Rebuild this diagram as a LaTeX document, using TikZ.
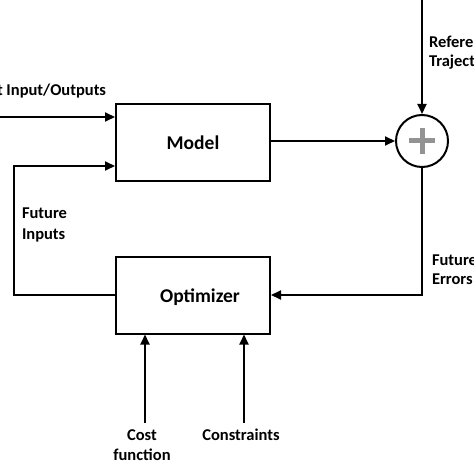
\documentclass[tikz,border=0pt]{standalone}
\usepackage{fontspec}
\setmainfont{Carlito}
\usetikzlibrary{arrows.meta}
\begin{document}
\begin{tikzpicture}[x=1bp,y=-1bp,
  line width=2bp,
  blk/.style={draw=black, line width=2bp, minimum width=154bp, minimum height=77bp, inner sep=0pt, font=\fontsize{19.5bp}{23bp}\selectfont\bfseries},
  lbl/.style={inner sep=0pt, font=\fontsize{16.5bp}{20bp}\selectfont\bfseries},
  sumc/.style={draw=black, circle, line width=2bp, minimum size=52bp, inner sep=0pt},
  arr/.style={-{Triangle[length=10bp,width=9bp]}, line width=2bp}
]
\useasboundingbox (0,0) rectangle (474,474);
\fill[white] (0,0) rectangle (474,474);

% blocks
\node[blk] (model) at (193,142.5) {Model};
\node[blk] (opt) at (193,295) {};
\node[lbl, font=\fontsize{19.5bp}{23bp}\selectfont\bfseries] (opttext) at (200,297) {Optimizer};
\node[sumc] (sum) at (422,141) {};
\fill[gray!85] (sum.center) ++(-13,-2.5) rectangle ++(26,5);
\fill[gray!85] (sum.center) ++(-2.5,-13) rectangle ++(5,26);

% coordinates
\coordinate (inL) at (-5,117);
\coordinate (refT) at (422,-5);
\coordinate (errC) at (422,295);
\coordinate (fbB) at (14,295);
\coordinate (fbT) at (14,166);
\coordinate (costS) at (145,423);
\coordinate (consS) at (244,423);

% connectors
\draw[arr] (inL) -- (inL -| model.west);
\draw[arr] (opt.west) -- (fbB) -- (fbT) -- (fbT -| model.west);
\draw[arr] (model.east |- sum.west) -- (sum.west);
\draw[arr] (refT) -- (sum.north);
\draw[arr] (sum.south) -- (errC) -- (opt.east);
\draw[arr] (costS) -- (costS |- opt.south);
\draw[arr] (consS) -- (consS |- opt.south);

% labels
\node[lbl, anchor=base east] (pio) at (107,96) {Past Input/Outputs};
\node[lbl, anchor=base west] (ref1) at (428,48) {Reference};
\node[lbl, anchor=base west] (ref2) at (428,67) {Trajectory};
\node[lbl, anchor=base west] (fi1) at (21,219) {Future};
\node[lbl, anchor=base west] (fi2) at (21,239) {Inputs};
\node[lbl, anchor=base west] (fe1) at (431,265) {Future};
\node[lbl, anchor=base west] (fe2) at (431,284) {Errors};
\node[lbl, anchor=base] (cf1) at (142,440) {Cost};
\node[lbl, anchor=base] (cf2) at (142,460) {function};
\node[lbl, anchor=base] (con) at (241,440) {Constraints};
\end{tikzpicture}
\end{document}
